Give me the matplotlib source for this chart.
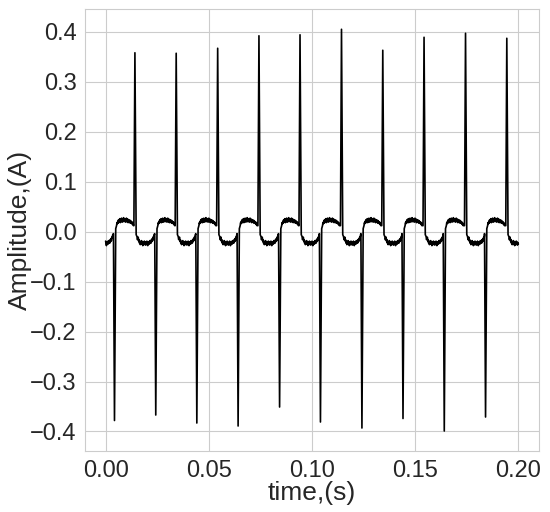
import numpy as np
import matplotlib
matplotlib.use('Agg')
import matplotlib.pyplot as plt
from matplotlib.ticker import FuncFormatter
import seaborn as sns

# spike times and peak values
neg_times = [0.0043, 0.0243, 0.0442, 0.0642, 0.0843, 0.1041, 0.1242, 0.1441, 0.1641, 0.1841]
neg_peaks = [-0.378, -0.367, -0.383, -0.389, -0.351, -0.381, -0.393, -0.374, -0.399, -0.371]
pos_times = [0.0142, 0.0342, 0.0543, 0.0743, 0.0942, 0.1143, 0.1343, 0.1543, 0.1744, 0.1944]
pos_peaks = [0.358, 0.357, 0.367, 0.392, 0.394, 0.405, 0.363, 0.389, 0.397, 0.387]

# plateau after a spike: offsets (s) from the spike and noisy levels (A)
plateau_offsets = [0.0010, 0.0012, 0.0014, 0.0016, 0.0018, 0.0020, 0.0022, 0.0024, 0.0026,
                   0.0028, 0.0030, 0.0032, 0.0034, 0.0036, 0.0038, 0.0040, 0.0042, 0.0044,
                   0.0046, 0.0048, 0.0050, 0.0052, 0.0054, 0.0056, 0.0058, 0.0060, 0.0062,
                   0.0064, 0.0066, 0.0068, 0.0070, 0.0072, 0.0074, 0.0076, 0.0078, 0.0080,
                   0.0082, 0.0084, 0.0086, 0.0088, 0.0090, 0.0092]
pos_plateau = [0.012, 0.018, 0.016, 0.021, 0.017, 0.024, 0.019, 0.022, 0.026, 0.018,
               0.023, 0.020, 0.027, 0.021, 0.019, 0.025, 0.022, 0.028, 0.020, 0.024,
               0.021, 0.026, 0.019, 0.023, 0.027, 0.020, 0.022, 0.025, 0.018, 0.024,
               0.021, 0.019, 0.023, 0.017, 0.022, 0.018, 0.020, 0.016, 0.019, 0.014,
               0.017, 0.012]
neg_plateau = [-0.010, -0.016, -0.014, -0.011, -0.019, -0.016, -0.023, -0.019, -0.026, -0.021,
               -0.024, -0.018, -0.025, -0.022, -0.028, -0.020, -0.023, -0.026, -0.019, -0.024,
               -0.021, -0.027, -0.022, -0.025, -0.019, -0.023, -0.028, -0.021, -0.024, -0.020,
               -0.025, -0.018, -0.022, -0.019, -0.023, -0.016, -0.020, -0.014, -0.018, -0.011,
               -0.013, -0.007]

# assemble the trace
tt = []
yy = []
# tail of the plateau before the first negative spike (previous positive spike)
prev_pos = neg_times[0] - 0.0101
for o, v in zip(plateau_offsets, neg_plateau):
    if prev_pos + o >= 0:
        tt.append(prev_pos + o); yy.append(v)
for i in range(len(neg_times)):
    tn = neg_times[i]
    tt += [tn - 0.0005, tn, tn + 0.0006]
    yy += [-0.004, neg_peaks[i], 0.006]
    for o, v in zip(plateau_offsets, pos_plateau):
        tt.append(tn + o); yy.append(v)
    tp = pos_times[i]
    tt += [tp - 0.0005, tp, tp + 0.0006]
    yy += [0.012, pos_peaks[i], -0.006]
    for o, v in zip(plateau_offsets, neg_plateau):
        if tp + o <= 0.2:
            tt.append(tp + o); yy.append(v)

tt = np.array(tt)
yy = np.array(yy)
order = np.argsort(tt, kind='stable')
tt = tt[order]
yy = yy[order]

sns.set_style('whitegrid')
plt.rcParams['font.family'] = ['Liberation Sans', 'DejaVu Sans']

fig, ax = plt.subplots(figsize=(5.5, 5.12), dpi=100)
fig.subplots_adjust(left=0.1545, right=0.98, top=0.982, bottom=0.119)
ax.plot(tt, yy, color='black', linewidth=1.2)

ax.set_xticks([0.0, 0.05, 0.10, 0.15, 0.20])
ax.set_yticks([-0.4, -0.3, -0.2, -0.1, 0.0, 0.1, 0.2, 0.3, 0.4])
ax.xaxis.set_major_formatter(FuncFormatter(lambda v, p: f'{v:.2f}'.replace('-', '\u2212')))
ax.yaxis.set_major_formatter(FuncFormatter(lambda v, p: f'{v:.1f}'.replace('-', '\u2212')))
ax.tick_params(labelsize=17, pad=2.6, colors='#262626')
ax.set_xlabel('time,(s)', fontsize=19, color='#262626')
ax.set_ylabel('Amplitude,(A)', fontsize=19, color='#262626')
ax.yaxis.set_label_coords(-0.117, 0.5)
ax.xaxis.set_label_coords(0.5, -0.068)

fig.savefig('out.png', dpi=100)
